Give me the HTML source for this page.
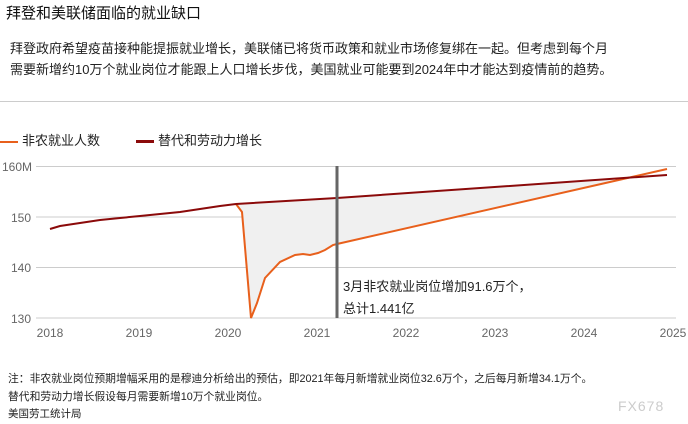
<!DOCTYPE html><html><head><meta charset="utf-8"><style>
body{margin:0;width:688px;height:424px;background:#fff;font-family:"Liberation Sans","Noto Sans CJK SC",sans-serif;color:#222;position:relative;overflow:hidden}
div{position:absolute;white-space:nowrap}
</style></head><body>
<div style="left:6px;top:2px;font-size:15px;color:#111">拜登和美联储面临的就业缺口</div>
<div style="left:10px;top:38px;font-size:13px;line-height:21px;color:#222">拜登政府希望疫苗接种能提振就业增长，美联储已将货币政策和就业市场修复绑在一起。但考虑到每个月<br>需要新增约10万个就业岗位才能跟上人口增长步伐，美国就业可能要到2024年中才能达到疫情前的趋势。</div>
<div style="left:0;top:101px;width:688px;border-top:1px solid #ccc"></div>
<div style="left:0;top:130px;font-size:13px"><span style="display:inline-block;width:18px;height:2px;background:#e8601c;vertical-align:middle;margin-right:4px"></span>非农就业人数</div>
<div style="left:136px;top:130px;font-size:13px"><span style="display:inline-block;width:18px;height:3px;background:#8b0a0a;vertical-align:middle;margin-right:4px"></span>替代和劳动力增长</div>
<svg style="position:absolute;left:0;top:0" width="688" height="424">
<g stroke="#ccc" stroke-width="1"><line x1="36" x2="676" y1="166.5" y2="166.5"/><line x1="36" x2="676" y1="217" y2="217"/><line x1="36" x2="676" y1="267.5" y2="267.5"/><line x1="36" x2="676" y1="318" y2="318"/></g>
<polygon fill="#f0f0f0" points="236,204 242,212 251,318 257,303 265,278 280,262 295,255 303,254 310,255 318,253 325,250 333,245 337,244 630,177 337,198"/>
<polyline fill="none" stroke="#e8601c" stroke-width="2" points="236,204 242,212 251,318 257,303 265,278 280,262 295,255 303,254 310,255 318,253 325,250 333,245 337,244 667,169"/>
<polyline fill="none" stroke="#8b0a0a" stroke-width="2" points="50,229 60,226 80,223 100,220 120,218 140,216 160,214 180,212 200,209 220,206 236,204 337,198 667,175"/>
<line x1="337" x2="337" y1="166" y2="318" stroke="#666" stroke-width="3"/>
<g font-size="12" fill="#666" font-family="Liberation Sans,sans-serif"><text x="2" y="171">160M</text><text x="11" y="222">150</text><text x="11" y="272">140</text><text x="11" y="323">130</text>
<g text-anchor="middle"><text x="50" y="337">2018</text><text x="139" y="337">2019</text><text x="228" y="337">2020</text><text x="317" y="337">2021</text><text x="406" y="337">2022</text><text x="495" y="337">2023</text><text x="584" y="337">2024</text><text x="673" y="337">2025</text></g></g>
</svg>
<div style="left:343px;top:276px;font-size:13px;line-height:22px">3月非农就业岗位增加91.6万个，<br>总计1.441亿</div>
<div style="left:8px;top:370px;font-size:10.8px;line-height:18px">注：非农就业岗位预期增幅采用的是穆迪分析给出的预估，即2021年每月新增就业岗位32.6万个，之后每月新增34.1万个。<br>替代和劳动力增长假设每月需要新增10万个就业岗位。</div>
<div style="left:8px;top:406px;font-size:10.5px">美国劳工统计局</div>
<div style="left:618px;top:398px;font-size:14px;color:#ccc;letter-spacing:1px">FX678</div>
</body></html>
